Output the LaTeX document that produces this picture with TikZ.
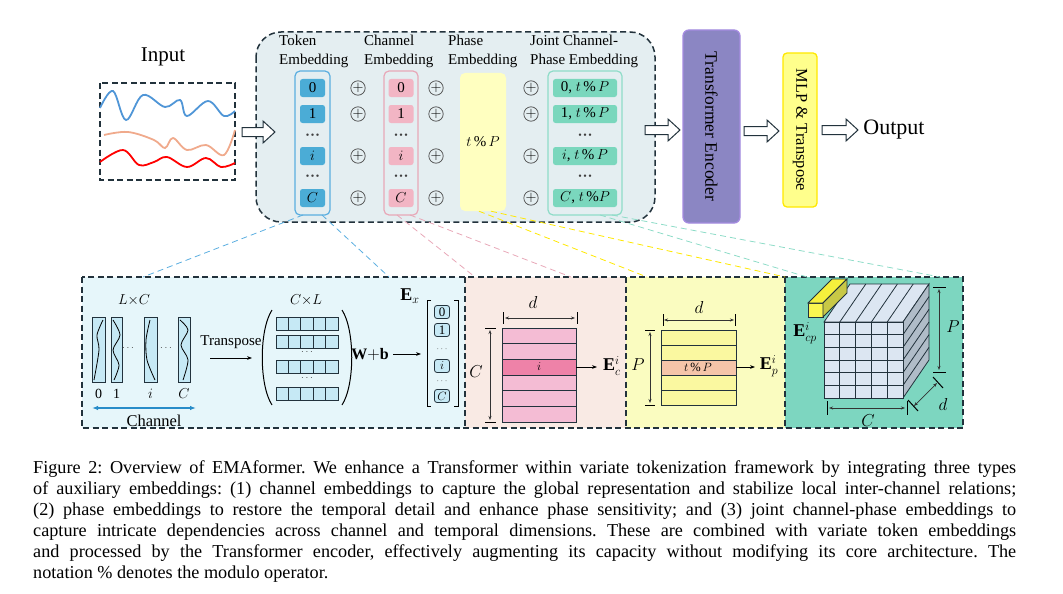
\documentclass[tikz,border=0pt]{standalone}
\usepackage{fontspec}
\setmainfont{Liberation Serif}
\usetikzlibrary{arrows.meta,calc}
\definecolor{bigbox}{HTML}{E4EEF1}
\definecolor{tokc}{HTML}{4BACD6}
\definecolor{tokl}{HTML}{5BAEE0}
\definecolor{chc}{HTML}{F2B5C4}
\definecolor{chl}{HTML}{E8A8B8}
\definecolor{phc}{HTML}{FFFFC0}
\definecolor{jc}{HTML}{7AD7BD}
\definecolor{jl}{HTML}{8EDCC8}
\definecolor{tec}{HTML}{8B86C3}
\definecolor{tel}{HTML}{A48BE0}
\definecolor{mlpc}{HTML}{FFFF8C}
\definecolor{mlpl}{HTML}{FFE800}
\definecolor{pb}{HTML}{E6F6FA}
\definecolor{pp}{HTML}{F9EAE4}
\definecolor{py}{HTML}{FAFCC0}
\definecolor{pg}{HTML}{7DD6C0}
\definecolor{dk}{HTML}{22323C}
\definecolor{strip}{HTML}{C6E9F5}
\definecolor{pinkrow}{HTML}{F4BCD4}
\definecolor{pinki}{HTML}{EE82A8}
\definecolor{yrow}{HTML}{FAF8A0}
\definecolor{salm}{HTML}{F5C5A9}
\definecolor{cubef}{HTML}{DCE6F2}
\definecolor{cubes}{HTML}{B0BCC8}
\newcommand\hollowarr[3]{\draw[dk,fill=white,line width=1pt] (#1,#3-4.5) -- (#2-12,#3-4.5) -- (#2-12,#3-11) -- (#2,#3) -- (#2-12,#3+11) -- (#2-12,#3+4.5) -- (#1,#3+4.5) -- cycle;}
\newcommand\fs[1]{\fontsize{#1}{#1}\selectfont}
\newcommand\bdots{{\fs{10}\textbullet\hspace{1.5pt}\textbullet\hspace{1.5pt}\textbullet}}
\tikzset{
 cell/.style={rounded corners=2.5pt,minimum width=#1,minimum height=18pt,inner sep=0pt,font=\fs{15}},
 tok/.style={cell=25pt,fill=tokc},
 ch/.style={cell=25pt,fill=chc},
 jt/.style={cell=64pt,fill=jc},
 plus/.style={circle,draw=black!70,line width=0.7pt,minimum size=13pt,inner sep=0pt,font=\fs{14}},
 hdr/.style={align=left,anchor=north west,font=\fontsize{15}{19}\selectfont,inner sep=0pt},
 dots/.style={inner sep=0pt,text=black!75},
 conn/.style={dashed,line width=0.8pt,dash pattern=on 6pt off 4pt},
 panel/.style={dashed,line width=1.5pt,draw=dk,dash pattern=on 6pt off 3.5pt},
 dimar/.style={{Stealth[length=4pt]}-{Stealth[length=4pt]},line width=0.7pt,black!80},
 captxt/.style={anchor=base west,inner sep=0pt,font=\fontsize{18.2}{20}\selectfont}
}
\begin{document}
\frenchspacing
\begin{tikzpicture}[x=1pt,y=-1pt]
\useasboundingbox (0,0) rectangle (1063,594);
% Input
\node (inp) at (163,57) {\fs{21}Input};
\draw[panel,line width=1.3pt] (100,83) rectangle (235,180);
\draw[color={rgb,255:red,80;green,150;blue,215},line width=1.8pt] plot[smooth,tension=0.6] coordinates {(100,108)(113,91)(126,120)(143,95)(165,107)(180,100)(187,116)(208,101)(224,116)(235,111)};
\draw[color={rgb,255:red,240;green,170;blue,140},line width=1.8pt] plot[smooth,tension=0.6] coordinates {(104,135)(128,132)(154,140)(165,148)(173,138)(187,150)(206,145)(224,155)(235,130)};
\draw[red,line width=1.8pt] plot[smooth,tension=0.6] coordinates {(100,162)(123,150)(139,165)(154,162)(167,157)(187,167)(206,158)(221,167)(235,163)};
% big box
\draw[panel,fill=bigbox,rounded corners=25pt] (256,32) rectangle (655,222);
\hollowarr{242}{275}{132}
\node[hdr] at (279,35) {Token\\Embedding};
\node[hdr] at (364,35) {Channel\\Embedding};
\node[hdr] at (448,35) {Phase\\Embedding};
\node[hdr] at (530,35) {Joint Channel-\\Phase Embedding};
\draw[tokl,line width=1.2pt,rounded corners=5pt] (295,71) rectangle (330,215);
\draw[chl,line width=1.2pt,rounded corners=5pt] (384,71) rectangle (418,215);
\draw[jl,line width=1.2pt,rounded corners=5pt] (548,71) rectangle (622,215);
\node[fill=phc,rounded corners=5pt,minimum width=46pt,minimum height=138pt] (ph) at (483,142) {\fs{15}$t\,\%\,P$};
\foreach \y/\l [count=\k] in {88/0,114/1,156/$i$,198/$C$}{
  \node[tok] (t\k) at (312.5,\y) {\l};
  \node[ch] (c\k) at (401,\y) {\l};
  \node[plus] (pa\k) at (358,\y) {$+$};
  \node[plus] (pb\k) at (436,\y) {$+$};
  \node[plus] (pc\k) at (531,\y) {$+$};
}
\node[jt] (j1) at (585,88) {0, $t\,\%\,P$};
\node[jt] (j2) at (585,114) {1, $t\,\%\,P$};
\node[jt] (j3) at (585,156) {$i$, $t\,\%\,P$};
\node[jt] (j4) at (585,198) {$C$, $t\,\%P$};
\foreach \y in {136,177}{\node[dots] at (312.5,\y) {\bdots};\node[dots] at (401,\y) {\bdots};\node[dots] at (585,\y) {\bdots};}
\hollowarr{645}{680}{130}
\node[draw=tel,fill=tec,line width=1.3pt,rounded corners=6pt,minimum width=57pt,minimum height=193pt] (te) at (711.5,126.5) {};
\node[rotate=-90,font=\fs{17.5}] at (te) {Transformer Encoder};
\hollowarr{744}{779}{131}
\node[draw=mlpl,fill=mlpc,line width=1.3pt,rounded corners=4pt,minimum width=34pt,minimum height=154pt] (mlp) at (800,130) {};
\node[rotate=-90,font=\fs{16.5}] at (mlp) {MLP \& Transpose};
\hollowarr{822}{858}{130}
\node[font=\fs{22}] (out) at (894,130) {Output};
% panels
\fill[pb] (82,277) rectangle (465,428);
\fill[pp] (465,277) rectangle (626,428);
\fill[py] (626,277) rectangle (785,428);
\fill[pg] (785,277) rectangle (963,428);
\draw[panel] (82,277) rectangle (963,428);
\draw[panel] (465,277) -- (465,428) (626,277) -- (626,428) (785,277) -- (785,428);
% connectors
\coordinate (b1) at (143,277); \coordinate (b2) at (389,277);
\coordinate (p1) at (475,277); \coordinate (p2) at (571,277);
\coordinate (y1) at (647,277); \coordinate (y2) at (785,277);
\coordinate (g1) at (807,277); \coordinate (g2) at (940,277);
\draw[conn,tokl] (303,215) -- (b1); \draw[conn,tokl] (322,215) -- (b2);
\draw[conn,chl] (397,215) -- (p1); \draw[conn,chl] (410,215) -- (p2);
\draw[conn,mlpl] (ph.south) ++(-4,0) -- (y1); \draw[conn,mlpl] (ph.south) ++(8,0) -- (y2);
\draw[conn,jl] (600,215) -- (g1); \draw[conn,jl] (612,215) -- (g2);
% token panel
\node at (134,300) {\fs{14}$L{\times}C$};
\foreach \a/\b/\l in {92/105/0,111/122/1,144/157/$i$,178/190/$C$}{
  \draw[fill=strip,draw=dk,line width=0.9pt] (\a,317) rectangle (\b,382);
  \node at ({(\a+\b)/2},394) {\fs{14}\l};
}
\draw[line width=0.8pt] plot[smooth] coordinates {(94,380)(99,350)(97,335)(103,320)};
\draw[line width=0.8pt] plot[smooth] coordinates {(113,320)(120,335)(113,350)(119,365)(114,380)};
\draw[line width=0.8pt] plot[smooth] coordinates {(150,320)(146,340)(147,360)(155,380)};
\draw[line width=0.8pt] plot[smooth] coordinates {(180,320)(188,330)(181,345)(188,360)(183,380)};
\node[dots] at (128,348) {$\cdots$};
\node[dots] at (166,348) {$\cdots$};
\draw[{Latex[length=6pt]}-{Latex[length=6pt]},line width=2.5pt,color={rgb,255:red,40;green,140;blue,200}] (92,408) -- (196,408);
\node at (154,421) {\fs{16.5}Channel};
\node (tp) at (231,342) {\fs{15}Transpose};
\draw[-{Stealth[length=5pt]},line width=0.8pt] (210,358) -- (252,358);
\node at (306,300) {\fs{14}$C{\times}L$};
\foreach \y in {317,335,360,387}{\foreach \i in {0,...,4}{\draw[fill=strip,draw=dk,line width=0.8pt] (276+\i*12.4,\y) rectangle ++(12.4,13);}}
\node[dots] at (307,352) {$\cdots$};
\node[dots] at (307,378) {$\cdots$};
\draw[line width=1pt] (272,310) .. controls (259,330) and (259,385) .. (272,405);
\draw[line width=1pt] (342,310) .. controls (355,330) and (355,385) .. (342,405);
\node (wb) at (370,354) {\fs{16}$\mathbf{W}{+}\mathbf{b}$};
\draw[-{Stealth[length=5pt]},line width=0.8pt] (393,354) -- (421,354);
\node at (410,296) {\fs{18}$\mathbf{E}_x$};
\draw[line width=1pt] (431,300) -- (427,300) -- (427,406) -- (431,406);
\draw[line width=1pt] (454,300) -- (458,300) -- (458,406) -- (454,406);
\foreach \y/\l in {312/0,330/1,366/$i$,396/$C$}{\node[cell=15pt,draw=dk,fill=strip,line width=0.8pt,minimum height=13pt,font=\fs{13}] at (442,\y) {\l};}
\node[dots,font=\fs{9}] at (442,349) {$\cdots$};
\node[dots,font=\fs{9}] at (442,381) {$\cdots$};
% pink panel
\node at (533,302) {\fs{17}$d$};
\draw[dimar] (505,318) -- (575,318);
\draw[line width=1pt] (503,312) -- (503,324) (577,312) -- (577,324);
\foreach \k in {0,...,5}{\draw[fill=pinkrow,draw=dk,line width=1pt] (502,328+\k*15.7) rectangle (576,{328+(\k+1)*15.7});}
\draw[fill=pinki,draw=dk,line width=1pt] (502,359.4) rectangle (576,375.1);
\node at (539,367) {\fs{12}$i$};
\draw[dimar] (490,330) -- (490,420);
\draw[line width=1pt] (485,328) -- (496,328) (485,422) -- (496,422);
\node at (476,372) {\fs{18}$C$};
\draw[-{Stealth[length=5pt]},line width=1pt] (576,367) -- (597,367);
\node at (612,366) {\fs{18}$\mathbf{E}_c^i$};
% yellow panel
\node at (699,307) {\fs{17}$d$};
\draw[dimar] (664,320) -- (734,320);
\draw[line width=1pt] (663,314) -- (663,326) (735,314) -- (735,326);
\foreach \k in {0,...,4}{\draw[fill=yrow,draw=dk,line width=1pt] (661,330+\k*15) rectangle (736,345+\k*15);}
\draw[fill=salm,draw=dk,line width=1pt] (661,360) rectangle (736,375);
\node at (698,367.5) {\fs{12.5}$t\,\%\,P$};
\draw[dimar] (650,332) -- (650,403);
\draw[line width=1pt] (645,330) -- (655,330) (645,405) -- (655,405);
\node at (638,365) {\fs{18}$P$};
\draw[-{Stealth[length=5pt]},line width=1pt] (736,367) -- (755,367);
\node at (769,366) {\fs{18}$\mathbf{E}_p^i$};
% cube
\def\dx{26}\def\dy{-38}
\draw[fill=cubef,draw=dk,line width=0.8pt] (824,322) -- ++(\dx,\dy) -- ++(79,0) -- ++(-\dx,-\dy) -- cycle;
\foreach \i in {1,...,4}{\draw[dk,line width=0.8pt] (824+\i*15.8,322) -- ++(\dx,\dy);}
\draw[fill=cubes,draw=dk,line width=0.8pt] (903,322) -- ++(\dx,\dy) -- ++(0,76) -- ++(-\dx,-\dy) -- cycle;
\foreach \j in {1,...,5}{\draw[dk,line width=0.8pt] (903,322+\j*12.67) -- ++(\dx,\dy);}
\foreach \i in {0,...,4}{\foreach \j in {0,...,5}{\draw[fill=cubef,draw=dk,line width=0.8pt] (824+\i*15.8,322+\j*12.67) rectangle ++(15.8,12.67);}}
\draw[fill={rgb,255:red,250;green,245;blue,80},draw=dk,line width=0.8pt] (808,303) rectangle (823,317);
\draw[fill={rgb,255:red,245;green,240;blue,60},draw=dk,line width=0.8pt] (808,303) -- ++(24,-24) -- ++(15,0) -- (823,303) -- cycle;
\draw[fill={rgb,255:red,200;green,200;blue,70},draw=dk,line width=0.8pt] (823,303) -- ++(24,-24) -- ++(0,14) -- (823,317) -- cycle;
\node at (805,333) {\fs{18}$\mathbf{E}_{cp}^i$};
\draw[dimar] (939,289) -- (939,370);
\draw[line width=1pt] (933,287) -- (946,287) (933,372) -- (946,372);
\node at (953,327) {\fs{18}$P$};
\draw[dimar] (829,408) -- (905,408);
\draw[line width=1pt] (827,401) -- (827,415) (907,401) -- (907,415);
\node at (868,421) {\fs{18}$C$};
\draw[dimar] (914,406) -- (937,383);
\draw[line width=1pt] (908,400) -- (918,411) (933,377) -- (943,388);
\node at (943,404) {\fs{18}$d$};
% caption
\node[captxt] at (33,473) {\makebox[983pt][s]{Figure 2: Overview of EMAformer. We enhance a Transformer within variate tokenization framework by integrating three types}};
\node[captxt] at (33,494) {\makebox[983pt][s]{of auxiliary embeddings: (1) channel embeddings to capture the global representation and stabilize local inter-channel relations;}};
\node[captxt] at (33,515) {\makebox[983pt][s]{(2) phase embeddings to restore the temporal detail and enhance phase sensitivity; and (3) joint channel-phase embeddings to}};
\node[captxt] at (33,536) {\makebox[983pt][s]{capture intricate dependencies across channel and temporal dimensions. These are combined with variate token embeddings}};
\node[captxt] at (33,557) {\makebox[983pt][s]{and processed by the Transformer encoder, effectively augmenting its capacity without modifying its core architecture. The}};
\node[captxt] at (33,578) {notation \% denotes the modulo operator.};
\end{tikzpicture}
\end{document}
